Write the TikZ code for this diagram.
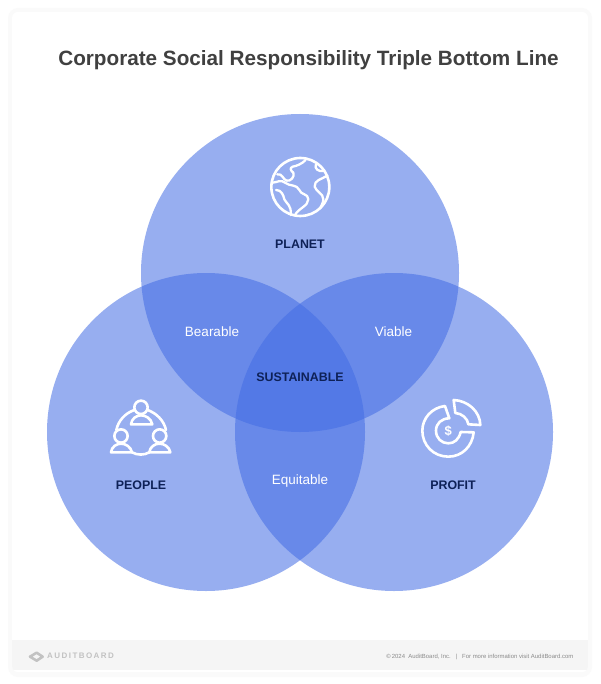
\documentclass[tikz,border=0pt]{standalone}
\usepackage{fontspec}
\setmainfont{Liberation Sans}
\definecolor{venn}{HTML}{426CE4}
\definecolor{navy}{HTML}{0E2157}
\definecolor{titlegray}{HTML}{404040}
\definecolor{footbg}{HTML}{F5F5F5}
\definecolor{footline}{HTML}{FAFAFA}
\definecolor{foottext}{HTML}{8A8A8A}
\definecolor{logogray}{HTML}{C2C2C2}
\tikzset{
  vennset/.style={circle,fill=venn,fill opacity=.55,minimum size=318pt,inner sep=0pt,draw=none},
  setlabel/.style={text=navy,font=\fontsize{12.4}{14}\selectfont\bfseries,inner sep=0pt},
  zonelabel/.style={text=white,font=\fontsize{13.5}{15}\selectfont,inner sep=0pt},
  iconline/.style={draw=white,line width=2.6pt,line cap=round,line join=round,fill=none},
  iconthin/.style={draw=white,line width=2.3pt,line cap=round,line join=round,fill=none},
}
\begin{document}
\begin{tikzpicture}[x=1pt,y=-1pt]
\useasboundingbox (0,0) rectangle (600,684);
\fill[white] (0,0) rectangle (600,684);
% card with faint shadow
\fill[footline,rounded corners=10pt] (8,8) rectangle (592,677);
\fill[white,rounded corners=6pt] (12,12) rectangle (588,672);
\begin{scope}
\clip[rounded corners=6pt] (12,12) rectangle (588,672);
\fill[footbg] (12,639.5) rectangle (588,670);
\end{scope}
% title
\node[anchor=center,text=titlegray,inner sep=0pt,font=\fontsize{20.7}{25}\selectfont\bfseries] (title) at (308.5,60) {Corporate Social Responsibility Triple Bottom Line};
% venn circles
\node[vennset] (planet) at (300,273) {};
\node[vennset] (people) at (206,432) {};
\node[vennset] (profit) at (394,432) {};
% labels
\node[setlabel] (lplanet) at (300,244) {PLANET};
\node[setlabel] (lpeople) at (141,485) {PEOPLE};
\node[setlabel] (lprofit) at (453,485) {PROFIT};
\node[setlabel] (lsust) at (300,377) {SUSTAINABLE};
\node[zonelabel] (lbear) at (212,331.5) {Bearable};
\node[zonelabel] (lviab) at (393.5,331.5) {Viable};
\node[zonelabel] (lequi) at (300,481) {Equitable};
% globe icon
\begin{scope}[xshift=240pt,yshift=-140pt,x=.3333pt,y=-.3333pt]
\draw[iconline] (181,141) circle (87);
\draw[iconthin] (197,60) .. controls (185,72) and (170,78) .. (158,80)
  .. controls (148,84) and (152,92) .. (160,98)
  .. controls (165,110) and (152,125) .. (140,122)
  .. controls (128,118) and (128,100) .. (112,103);
\draw[iconthin] (98,128) .. controls (115,126) and (122,118) .. (135,128)
  .. controls (150,140) and (170,132) .. (178,150)
  .. controls (182,165) and (205,160) .. (205,178)
  .. controls (205,198) and (175,205) .. (165,225);
\draw[iconthin] (108,150) .. controls (125,150) and (130,165) .. (133,178)
  .. controls (140,192) and (155,195) .. (152,225);
\draw[iconthin] (228,73) .. controls (222,85) and (235,97) .. (253,93);
\draw[iconthin] (262,107) .. controls (245,118) and (222,120) .. (224,140)
  .. controls (228,155) and (250,160) .. (250,178)
  .. controls (250,190) and (242,198) .. (240,206);
\end{scope}
% people icon
\begin{scope}[xshift=90pt,yshift=-390pt,x=.3333pt,y=-.3333pt]
\draw[iconline] (153,52) circle (20);
\draw[iconline] (93,138) circle (20);
\draw[iconline] (209,138) circle (20);
\draw[iconline] (123,103) .. controls (125,85) and (140,76) .. (153,76) .. controls (167,76) and (183,85) .. (187,103) -- cycle;
\draw[iconline] (63,187) .. controls (65,170) and (80,161) .. (93,161) .. controls (107,161) and (122,170) .. (126,187) -- cycle;
\draw[iconline] (178,187) .. controls (180,170) and (195,161) .. (208,161) .. controls (222,161) and (238,170) .. (241,187) -- cycle;
\draw[iconline] (133,60) .. controls (105,70) and (85,92) .. (79,120);
\draw[iconline] (173,60) .. controls (200,70) and (222,92) .. (228,120);
\draw[iconline] (126,187) .. controls (142,196) and (162,196) .. (178,187);
\end{scope}
% profit icon
\begin{scope}[xshift=400pt,yshift=-390pt,x=.3333pt,y=-.3333pt]
\draw[iconline] (135,48) -- (148,85)
  .. controls (125,85) and (108,100) .. (108,122)
  .. controls (108,145) and (125,160) .. (145,160)
  .. controls (163,160) and (177,148) .. (182,126)
  -- (221,127)
  .. controls (217,170) and (185,200) .. (145,200)
  .. controls (100,200) and (67,165) .. (67,122)
  .. controls (67,85) and (95,53) .. (135,48) -- cycle;
\draw[iconline] (161,30) .. controls (205,32) and (240,65) .. (241,105)
  -- (205,103)
  .. controls (203,85) and (185,70) .. (166,69) -- cycle;
\node[text=white,inner sep=0pt,font=\fontsize{13}{14}\selectfont\bfseries] (dollar) at (145,123) {\$};
\end{scope}
% footer
\begin{scope}[xshift=0pt,yshift=-630pt,x=.3333pt,y=-.3333pt]
\draw[logogray,line width=2.6pt,line join=round] (90,80) -- (110,68) -- (128,80) -- (110,92) -- cycle;
\fill[footbg] (102,80) -- (110,75) -- (118,80) -- (110,85) -- cycle;
\end{scope}
\node[anchor=west,text=logogray,inner sep=0pt,font=\fontsize{8}{9}\selectfont\bfseries\addfontfeatures{LetterSpace=18}] (brand) at (47,656) {AUDITBOARD};
\node[anchor=east,text=foottext,inner sep=0pt,font=\fontsize{5.95}{7}\selectfont] (foot) at (573.5,656.5) {©\,2024\ \ AuditBoard, Inc.\ \ \ |\ \ \ For more information visit AuditBoard.com};
\end{tikzpicture}
\end{document}
